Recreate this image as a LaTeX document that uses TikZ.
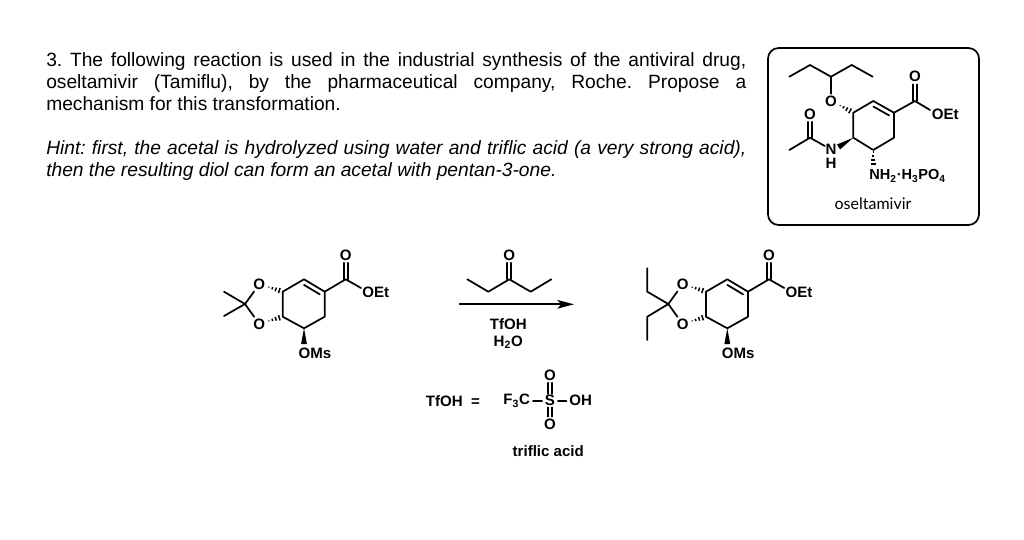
\documentclass[tikz,border=0pt]{standalone}
\usepackage{fontspec}
\setmainfont{Liberation Sans}
\newfontfamily\boxfont{Lato}
\usetikzlibrary{calc}
\usetikzlibrary{arrows.meta}
\frenchspacing

\tikzset{
  bond/.style={line width=1.3pt,line cap=round,line join=round},
  hashline/.style={line width=1.15pt},
  atom/.style={inner sep=1.2pt,font=\fontsize{11.3pt}{12pt}\selectfont\bfseries},
  para/.style={inner sep=0pt,anchor=north west,text width=525pt,align=justify,
    font=\fontsize{14.4pt}{16.5pt}\selectfont}
}

\newcommand{\hashbond}[2]{
  \foreach \hs in {.12,.34,.56,.78,1}
    \draw[hashline] ($(#1)!\hs!(#2)!{\hs*2.6pt}!90:(#2)$) -- ($(#1)!\hs!(#2)!{\hs*2.6pt}!-90:(#2)$);
}
\newcommand{\wedgebond}[2]{
  \fill (#1) -- ($(#2)!2.2pt!90:(#1)$) -- ($(#2)!2.2pt!-90:(#1)$) -- cycle;
}
\newcommand{\dblbond}[3][]{
  \draw[bond,shorten >=5.8pt,#1] ($(#2)!1.5pt!90:(#3)$) -- ($(#3)!1.5pt!-90:(#2)$);
  \draw[bond,shorten >=5.8pt,#1] ($(#2)!1.5pt!-90:(#3)$) -- ($(#3)!1.5pt!90:(#2)$);
}
\newcommand{\innerbond}[2]{
  \draw[bond] ($(#1)!.12!(#2)!3.6pt!-90:(#2)$) -- ($(#2)!.12!(#1)!3.6pt!90:(#1)$);
}
% cyclohexene with ester, OMs and the two acetal oxygens
\newcommand{\ringcore}[1]{
  \coordinate (#1r1) at (282.7,291.7);
  \coordinate (#1r2) at (304,279.3);
  \coordinate (#1r3) at (324.7,291.7);
  \coordinate (#1r4) at (324.7,316.7);
  \coordinate (#1r5) at (304,328.3);
  \coordinate (#1r6) at (282.7,316.7);
  \coordinate (#1est) at (345.7,279.3);
  \coordinate (#1oe) at (361,288);
  \coordinate (#1ms) at (304,344);
  \coordinate (#1h1) at (267,286.5);
  \coordinate (#1h2) at (267,321.5);
  \node[atom] (#1co) at (345.7,255) {O};
  \node[atom,anchor=west] (#1oet) at (360.5,292.3) {OEt};
  \node[atom,anchor=west] (#1oms) at (296.7,353.3) {OMs};
  \node[atom] (#1o1) at (259.3,284.3) {O};
  \node[atom] (#1o2) at (259.3,324) {O};
  \draw[bond] (#1r1) -- (#1r2) -- (#1r3) -- (#1r4) -- (#1r5) -- (#1r6) -- cycle;
  \innerbond{#1r2}{#1r3}
  \draw[bond] (#1r3) -- (#1est) -- (#1oe);
  \dblbond{#1est}{#1co}
  \wedgebond{#1r5}{#1ms}
  \hashbond{#1h1}{#1r1}
  \hashbond{#1h2}{#1r6}
}

\begin{document}
\begin{tikzpicture}[x=.75pt,y=-.75pt]
\useasboundingbox (0,0) rectangle (1024,539);

% question text
\node[para] (que) at (46,52.2) {3. The following reaction is used in the industrial synthesis of the antiviral drug,\linebreak
oseltamivir (Tamiflu), by the pharmaceutical company, Roche. Propose a\linebreak
mechanism for this transformation.};
\node[para] (hint) at (46,140.6) {\itshape Hint: first, the acetal is hydrolyzed using water and triflic acid (a very strong acid),\linebreak
then the resulting diol can form an acetal with pentan-3-one.};

% oseltamivir box
\node[draw,line width=1.3pt,rounded corners=8pt,minimum width=158.25pt,minimum height=132.75pt,inner sep=0pt] (box) at (873.5,136.5) {};
\coordinate (a1) at (789.3,76.7);
\coordinate (a2) at (810,65);
\coordinate (a3) at (831,76.7);
\coordinate (a4) at (851.7,65);
\coordinate (a5) at (872.7,76.7);
\coordinate (c1) at (894,112.7);
\coordinate (c2) at (873.3,101);
\coordinate (c3) at (853.3,112.7);
\coordinate (c4) at (853.3,137.7);
\coordinate (c5) at (873.3,150);
\coordinate (c6) at (894,137.7);
\coordinate (e1) at (915,101);
\coordinate (e2) at (930,110);
\coordinate (m1) at (810,137.7);
\coordinate (m2) at (789.3,150);
\coordinate (h1) at (838.5,104.5);
\coordinate (w1) at (838.5,147);
\coordinate (h2) at (873.3,168);
\node[atom] (oa) at (831,101) {O};
\node[atom] (oc) at (915,76.7) {O};
\node[atom,anchor=west] (oet) at (930,114) {OEt};
\node[atom] (om) at (810,114) {O};
\node[atom,inner sep=.4pt] (nn) at (831,149.5) {N};
\node[atom,inner sep=0pt] (hh) at (831,163) {H};
\node[atom,anchor=west,font=\fontsize{10.9pt}{12pt}\selectfont\bfseries] (nh) at (867.6,176) {NH\textsubscript{2}·H\textsubscript{3}PO\textsubscript{4}};
\node[inner sep=0pt,font=\fontsize{12pt}{13pt}\selectfont\boxfont] (osel) at (873,203.5) {oseltamivir};
\draw[bond] (a1) -- (a2) -- (a3) -- (a4) -- (a5);
\draw[bond] (a3) -- (oa);
\draw[bond] (c1) -- (c2) -- (c3) -- (c4) -- (c5) -- (c6) -- cycle;
\innerbond{c2}{c1}
\draw[bond] (c1) -- (e1) -- (e2);
\dblbond{e1}{oc}
\dblbond{m1}{om}
\draw[bond] (m2) -- (m1) -- (nn);
\hashbond{h1}{c3}
\wedgebond{c4}{w1}
\hashbond{c5}{h2}

% starting material
\ringcore{s}
\coordinate (sk) at (245,304);
\coordinate (sm1) at (224,291.7);
\coordinate (sm2) at (224,316);
\draw[bond] (so1) -- (sk) -- (so2);
\draw[bond] (sm1) -- (sk) -- (sm2);

% product
\begin{scope}[shift={(423.3,0)}]
\ringcore{p}
\end{scope}
\coordinate (pk) at (668.3,304);
\coordinate (pe1) at (647.3,291.7);
\coordinate (pe2) at (647.3,268.3);
\coordinate (pe3) at (647.3,316.7);
\coordinate (pe4) at (647.3,340);
\draw[bond] (po1) -- (pk) -- (po2);
\draw[bond] (pe2) -- (pe1) -- (pk) -- (pe3) -- (pe4);

% arrow and reagents
\coordinate (k1) at (467.3,279.3);
\coordinate (k2) at (488.3,291.7);
\coordinate (k3) at (509.3,279.3);
\coordinate (k4) at (530.7,291.7);
\coordinate (k5) at (551.3,279.3);
\coordinate (arra) at (459.3,304.3);
\coordinate (arrb) at (574,304.3);
\node[atom] (ko) at (509.3,255) {O};
\node[atom] (tf) at (508.3,324) {TfOH};
\node[atom] (wat) at (508.3,342.3) {H\textsubscript{2}O};
\draw[bond] (k1) -- (k2) -- (k3) -- (k4) -- (k5);
\dblbond{k3}{ko}
\draw[-{Stealth[length=12.5pt,width=6.5pt,inset=3pt]},line width=1.4pt] (arra) -- (arrb);

% triflic acid
\node[atom,anchor=west] (tfeq) at (424,400.7) {TfOH\ \ =};
\node[atom,anchor=east,inner sep=2pt] (cf) at (533,400.7) {F\textsubscript{3}C};
\node[atom,inner sep=2pt] (su) at (550,400.7) {S};
\node[atom,anchor=west,inner sep=2pt] (oh) at (566.5,400.7) {OH};
\node[atom] (ot) at (550,375) {O};
\node[atom] (ob) at (550,424.3) {O};
\node[atom] (tfl) at (548.3,450.7) {triflic acid};
\draw[bond] (cf) -- (su) -- (oh);
\dblbond[shorten <=5pt]{su}{ot}
\dblbond[shorten <=5pt]{su}{ob}
\end{tikzpicture}
\end{document}
